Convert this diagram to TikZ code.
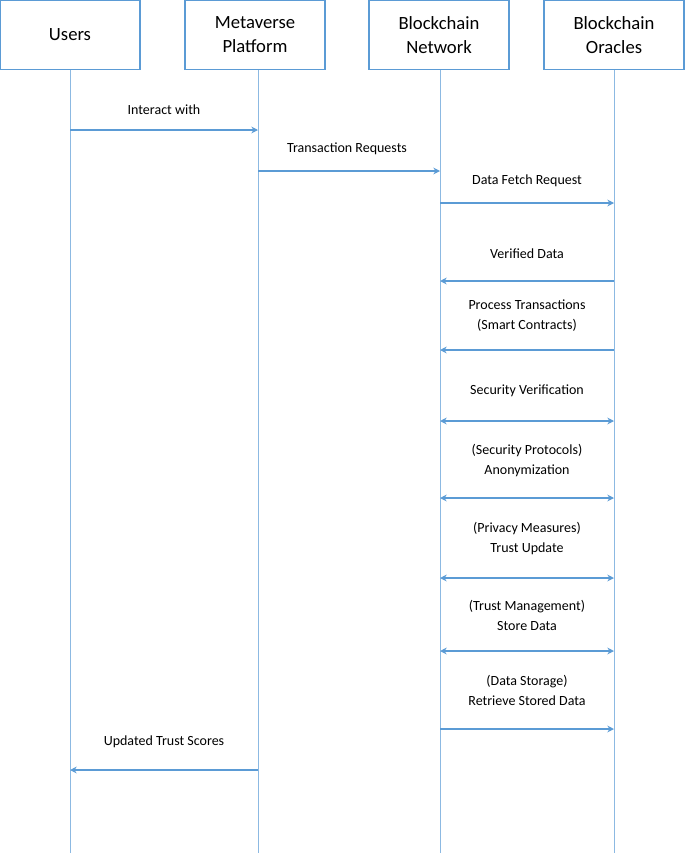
\documentclass[tikz,border=0pt]{standalone}
\usepackage{fontspec}
\setmainfont{Carlito}
\usetikzlibrary{arrows.meta}
\definecolor{ln}{HTML}{5B9BD5}
\begin{document}
\begin{tikzpicture}[x=0.75pt,y=-0.75pt,
 box/.style={draw=ln,line width=0.9pt,minimum width=105pt,minimum height=52pt,align=center,font=\fontsize{14}{18}\selectfont,inner sep=0pt},
 life/.style={draw=ln!70,line width=0.6pt},
 msg/.style={draw=ln,line width=1pt,-{Stealth[length=5pt,width=5pt]}},
 dmsg/.style={draw=ln,line width=1pt,{Stealth[length=5pt,width=5pt]}-{Stealth[length=5pt,width=5pt]}},
 lab/.style={font=\fontsize{10.5}{15}\selectfont,align=center,inner sep=0pt}]
\useasboundingbox (0,0) rectangle (685,853);
\node[box] (u) at (70,35) {Users};
\node[box] (m) at (255,35) {Metaverse\\Platform};
\node[box] (b) at (439,35) {Blockchain\\Network};
\node[box] (o) at (614,35) {Blockchain\\Oracles};
\foreach \n/\x in {u/70,m/258,b/440,o/614}{
  \coordinate (\n e) at (\x,853);
  \draw[life] (\x,70) -- (\n e);
}
\foreach \n/\x in {u/70,m/258,b/440,o/614}{
 \foreach \y in {130,171,203,281,350,421,498,578,651,729,770}{
  \coordinate (\n\y) at (\x,\y);
 }}
\draw[msg] (u130) -- (m130); \node[lab] at (164,110) {Interact with};
\draw[msg] (m171) -- (b171); \node[lab] at (347,149) {Transaction Requests};
\draw[msg] (b203) -- (o203); \node[lab] at (527,181) {Data Fetch Request};
\draw[msg] (o281) -- (b281); \node[lab] at (527,254) {Verified Data};
\draw[msg] (o350) -- (b350); \node[lab] at (527,316) {Process Transactions\\(Smart Contracts)};
\draw[dmsg] (b421) -- (o421); \node[lab] at (527,391) {Security Verification};
\draw[dmsg] (b498) -- (o498); \node[lab] at (527,461) {(Security Protocols)\\Anonymization};
\draw[dmsg] (b578) -- (o578); \node[lab] at (527,539) {(Privacy Measures)\\Trust Update};
\draw[dmsg] (b651) -- (o651); \node[lab] at (527,615) {(Trust Management)\\Store Data};
\draw[msg] (b729) -- (o729); \node[lab] at (527,690) {(Data Storage)\\Retrieve Stored Data};
\draw[msg] (m770) -- (u770); \node[lab] at (164,742) {Updated Trust Scores};
\end{tikzpicture}
\end{document}
